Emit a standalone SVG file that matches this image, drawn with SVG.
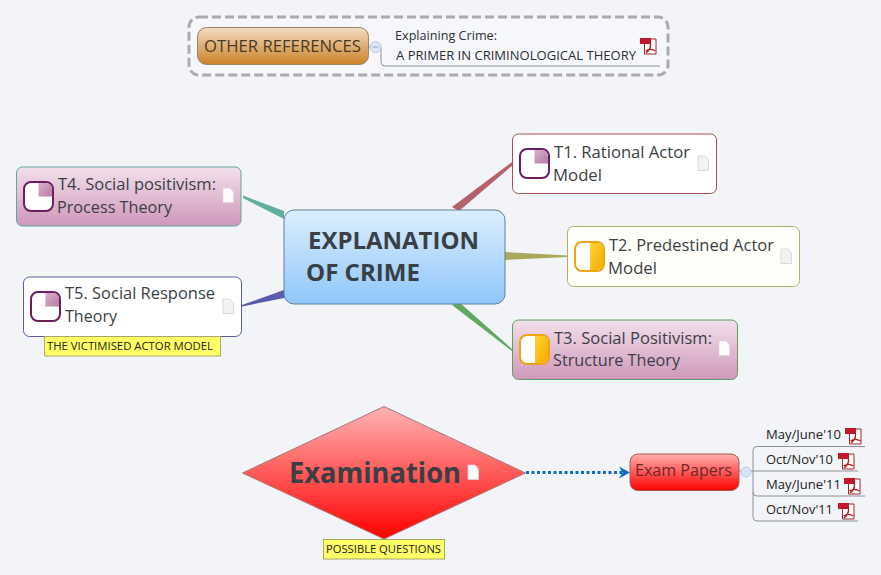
<svg xmlns="http://www.w3.org/2000/svg" width="881" height="575" viewBox="0 0 881 575">
<style>
text{font-family:"Open Sans","Noto Sans","Liberation Sans",sans-serif;fill:#3a3f44}
.t{font-size:16.500px}
.s{font-size:13px;fill:#2c2f33}
.n{font-size:11.500px;fill:#222}
.ex{font-size:13px;fill:#222}
.doc{fill:#f2f2f2;stroke:#cfcfcf;stroke-width:.7}
.docw{fill:#fbfbfb;stroke:#e0d4dc;stroke-width:.7}
.pdfb{fill:#fff;stroke:#9b2a2a;stroke-width:1}
.pdfr{fill:#c0182a}
.pdfs{fill:none;stroke:#b32020;stroke-width:1.300}
.br{fill:none;stroke:#8d929a;stroke-width:1}
</style>
<defs>
<linearGradient id="g-pink" x1="0" y1="0" x2="0" y2="1"><stop offset="0" stop-color="#f3e0ec"/><stop offset="1" stop-color="#cf97ba"/></linearGradient>
<linearGradient id="g-blue" x1="0" y1="0" x2="0" y2="1"><stop offset="0" stop-color="#dceefe"/><stop offset="1" stop-color="#8fc6fb"/></linearGradient>
<linearGradient id="g-org" x1="0" y1="0" x2="0" y2="1"><stop offset="0" stop-color="#f3dcc2"/><stop offset="1" stop-color="#cc8228"/></linearGradient>
<linearGradient id="g-red" x1="0" y1="0" x2="0" y2="1"><stop offset="0" stop-color="#ffb0b0"/><stop offset="1" stop-color="#f00"/></linearGradient>
<linearGradient id="g-dia" x1="0" y1="0" x2="0" y2="1"><stop offset="0" stop-color="#ffb4b4"/><stop offset="1" stop-color="#f00"/></linearGradient>
<linearGradient id="g-q" x1="0" y1="0" x2="1" y2="1"><stop offset="0" stop-color="#d9b0cc"/><stop offset="1" stop-color="#b87aa4"/></linearGradient>
<linearGradient id="g-y" x1="0" y1="0" x2="1" y2="1"><stop offset="0" stop-color="#ffd633"/><stop offset="1" stop-color="#f5a800"/></linearGradient>
<g id="doc"><path class="doc" d="M0 0h7l3.500 4v10.500H0z"/></g>
<g id="docw"><path class="docw" d="M0 0h7l3.500 4v10.500H0z"/></g>
<g id="pdf"><path class="pdfb" d="M4.500 1h11.500v15H4.500z"/><path class="pdfr" d="M0 0h11v6H0z"/><path class="pdfs" d="M6 15c3-2 5-6 4.500-9M5.500 13c3-2 7-2 10 0"/></g>
<g id="quarter"><rect x="0" y="0" width="29" height="29" rx="7" fill="#fff" stroke="#6a1f5f" stroke-width="2"/><path d="M14.500 1H22a6 6 0 0 1 6 6v7.500H14.500z" fill="url(#g-q)"/></g>
<g id="half"><rect x="0" y="0" width="29" height="29" rx="7" fill="#fff" stroke="#eca412" stroke-width="2"/><path d="M15 1H22a6 6 0 0 1 6 6v15a6 6 0 0 1-6 6H15z" fill="url(#g-y)"/></g>
</defs>
<rect width="881" height="575" fill="#f2f4f8"/>

<g id="boundary"><rect x="189" y="17" width="479" height="58" rx="10" fill="#f6f7fb" stroke="#a9abb0" stroke-width="3" stroke-dasharray="9 4"/></g>

<g id="connectors">
<polygon points="452,207 459,211 513,165 512,162" fill="#b5626c"/>
<polygon points="505,252 505,260 568,257 568,255.500" fill="#aaa85c"/>
<polygon points="452,305 459,302 513,350 512,351" fill="#5fa85f"/>
<polygon points="284,211 284,219 243,198 243,195.500" fill="#5fae9e"/>
<polygon points="284,290 284,298 242,306.500 242,305" fill="#5a5ab0"/>
<path d="M526 472.500H622" fill="none" stroke="#0f6cc4" stroke-width="3" stroke-dasharray="3 2.500"/>
<path d="M619 466.500l11 6-11 6 3.500-6z" fill="#0f6cc4"/>
<path class="br" d="M369 47h12v15a4 4 0 0 0 4 4H660"/>
<path class="br" d="M739 471h14M865 446.500H757a4 4 0 0 0-4 4V517a4 4 0 0 0 4 4H858M753 471H858M753 492a4 4 0 0 0 4 4H865"/>
</g>

<g id="other-references">
<rect x="197.500" y="27.500" width="171" height="37" rx="9" fill="url(#g-org)" stroke="#9a8468"/>
<text x="204" y="52" font-size="16.500" textLength="157" lengthAdjust="spacingAndGlyphs" style="fill:#4a3a24">OTHER REFERENCES</text>
<circle cx="375.500" cy="47" r="5.500" fill="#dbe6f6" stroke="#b4c8e4"/><path d="M372.500 47h6" stroke="#8fa8d0"/>
</g>
<g id="primer">
<text class="s" x="395" y="40" textLength="102" lengthAdjust="spacingAndGlyphs">Explaining Crime:</text>
<text class="s" x="396" y="60" textLength="240" lengthAdjust="spacingAndGlyphs">A PRIMER IN CRIMINOLOGICAL THEORY</text>
<use href="#pdf" x="640" y="38"/>
</g>

<g id="central">
<rect x="284" y="210" width="221" height="94" rx="10" fill="url(#g-blue)" stroke="#5f8198"/>
<text x="308" y="249" font-size="23.500" font-weight="700" textLength="171" lengthAdjust="spacingAndGlyphs">EXPLANATION</text>
<text x="306" y="281" font-size="23.500" font-weight="700" textLength="114" lengthAdjust="spacingAndGlyphs">OF CRIME</text>
</g>

<g id="t1">
<rect x="512.500" y="134" width="204" height="59.500" rx="6" fill="#fff" stroke="#a8505c"/>
<use href="#quarter" x="520" y="149"/>
<text class="t" x="554" y="158" textLength="136" lengthAdjust="spacingAndGlyphs">T1. Rational Actor</text>
<text class="t" x="553" y="181" textLength="49" lengthAdjust="spacingAndGlyphs">Model</text>
<use href="#doc" x="698" y="156"/>
</g>
<g id="t2">
<rect x="567.500" y="226.500" width="232" height="60" rx="6" fill="#fffffa" stroke="#b0ae6c"/>
<use href="#half" x="575" y="242"/>
<text class="t" x="609" y="251" textLength="165" lengthAdjust="spacingAndGlyphs">T2. Predestined Actor</text>
<text class="t" x="608" y="274" textLength="49" lengthAdjust="spacingAndGlyphs">Model</text>
<use href="#doc" x="781" y="249"/>
</g>
<g id="t3">
<rect x="512.500" y="320" width="225" height="59.500" rx="6" fill="url(#g-pink)" stroke="#5e9e63"/>
<use href="#half" x="520" y="335"/>
<text class="t" x="554" y="344" textLength="158" lengthAdjust="spacingAndGlyphs">T3. Social Positivism:</text>
<text class="t" x="553" y="366" textLength="127" lengthAdjust="spacingAndGlyphs">Structure Theory</text>
<use href="#docw" x="719" y="341"/>
</g>
<g id="t4">
<rect x="16.500" y="167" width="224.500" height="59" rx="6" fill="url(#g-pink)" stroke="#5fa8a0"/>
<use href="#quarter" x="24" y="182"/>
<text class="t" x="58" y="190" textLength="158" lengthAdjust="spacingAndGlyphs">T4. Social positivism:</text>
<text class="t" x="57" y="213" textLength="115" lengthAdjust="spacingAndGlyphs">Process Theory</text>
<use href="#docw" x="223" y="188"/>
</g>
<g id="t5">
<rect x="23.500" y="277" width="218" height="59.500" rx="6" fill="#fff" stroke="#5c5c9c"/>
<use href="#quarter" x="31" y="292"/>
<text class="t" x="65" y="299" textLength="150" lengthAdjust="spacingAndGlyphs">T5. Social Response</text>
<text class="t" x="65" y="322" textLength="52" lengthAdjust="spacingAndGlyphs">Theory</text>
<use href="#doc" x="223" y="299"/>
</g>
<g id="note-victimised">
<rect x="44.500" y="336.500" width="176" height="19.500" fill="#ffff66" stroke="#a8a868"/>
<text class="n" x="47" y="350" textLength="166" lengthAdjust="spacingAndGlyphs">THE VICTIMISED ACTOR MODEL</text>
</g>

<g id="examination">
<polygon points="242.500,473 384,406.500 525.500,473 384,539" fill="url(#g-dia)" stroke="#a87878"/>
<text x="289" y="483" font-size="28" font-weight="700" textLength="172" lengthAdjust="spacingAndGlyphs">Examination</text>
<use href="#docw" x="468" y="465"/>
</g>
<g id="note-questions">
<rect x="323.500" y="539.500" width="121" height="19.500" fill="#ffff66" stroke="#a8a868"/>
<text class="n" x="326" y="553" textLength="115" lengthAdjust="spacingAndGlyphs">POSSIBLE QUESTIONS</text>
</g>

<g id="exam-papers">
<rect x="630" y="454" width="109" height="36.500" rx="8" fill="url(#g-red)" stroke="#a85a50"/>
<text x="635" y="476" font-size="16" textLength="97" lengthAdjust="spacingAndGlyphs" style="fill:#6b2a26">Exam Papers</text>
<circle cx="746" cy="472" r="5" fill="#d8e4f5" stroke="#b8cce8"/>
</g>
<g id="paper-1"><text class="ex" x="766" y="439" textLength="75" lengthAdjust="spacingAndGlyphs">May/June'10</text><use href="#pdf" x="845" y="428"/></g>
<g id="paper-2"><text class="ex" x="766" y="464" textLength="67" lengthAdjust="spacingAndGlyphs">Oct/Nov'10</text><use href="#pdf" x="838" y="453"/></g>
<g id="paper-3"><text class="ex" x="766" y="489" textLength="75" lengthAdjust="spacingAndGlyphs">May/June'11</text><use href="#pdf" x="844" y="478"/></g>
<g id="paper-4"><text class="ex" x="766" y="514" textLength="67" lengthAdjust="spacingAndGlyphs">Oct/Nov'11</text><use href="#pdf" x="838" y="503"/></g>
</svg>
